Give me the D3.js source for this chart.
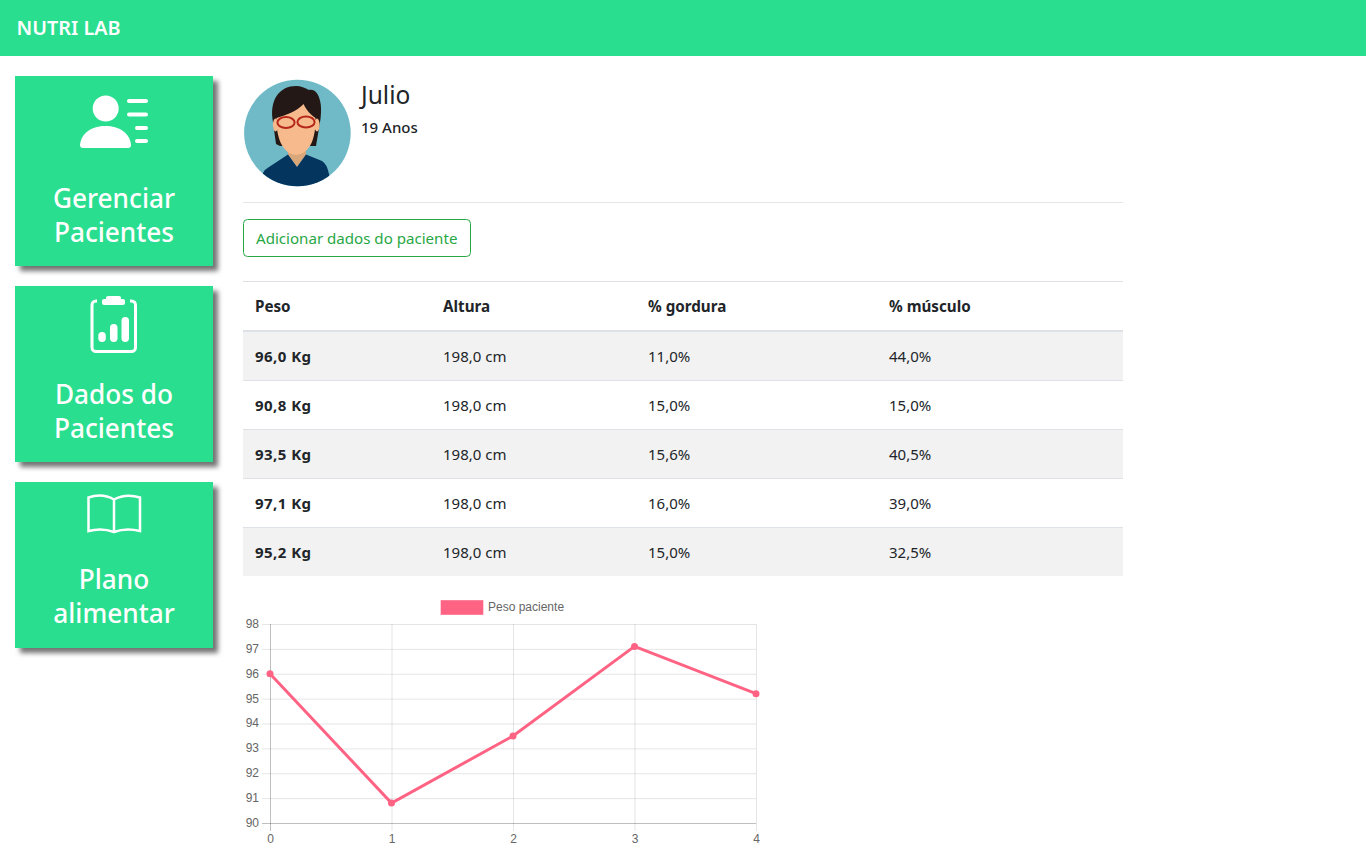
<!DOCTYPE html>
<html>
<head>
<meta charset="utf-8">
<script src="https://cdnjs.cloudflare.com/ajax/libs/d3/7.8.5/d3.min.js"></script>
<style>
  html, body { margin: 0; padding: 0; background: #fff; overflow: hidden; }
  svg { display: block; }
  text { font-family: "Noto Sans", sans-serif; }
  .chart text { font-family: "Liberation Sans", Arial, sans-serif; font-size: 12px; fill: #666; }
</style>
</head>
<body>
<div class="canvas"></div>
<script>
// data
const peso = [96.0, 90.8, 93.5, 97.1, 95.2];
const altura = [198.0, 198.0, 198.0, 198.0, 198.0];
const gordura = [11.0, 15.0, 15.6, 16.0, 15.0];
const musculo = [44.0, 15.0, 40.5, 39.0, 32.5];
const medicoes = [0, 1, 2, 3, 4];
const pesoTicks = [90, 91, 92, 93, 94, 95, 96, 97, 98];
const colunas = ['Peso', 'Altura', '% gordura', '% músculo'];
const menu = [
    ['Gerenciar', 'Pacientes'],
    ['Dados do', 'Pacientes'],
    ['Plano', 'alimentar']
];

const green = '#2ade8f';
const pink = 'rgb(255, 99, 132)';
const dark = '#212529';

const svg = d3.select('.canvas')
    .append('svg')
    .attr('width', 1366)
    .attr('height', 852);

const shadow = svg.append('defs').append('filter')
    .attr('id', 'shadow')
    .attr('x', '-10%').attr('y', '-10%')
    .attr('width', '125%').attr('height', '125%');
shadow.append('feDropShadow')
    .attr('dx', 5).attr('dy', 5)
    .attr('stdDeviation', 2.5)
    .attr('flood-color', '#000')
    .attr('flood-opacity', 0.55);

// navbar
svg.append('rect').attr('width', 1366).attr('height', 56).attr('fill', green);
svg.append('text')
    .attr('x', 16.5).attr('y', 35)
    .attr('fill', '#fff')
    .attr('font-size', 19.8)
    .attr('font-weight', 600)
    .text('NUTRI LAB');

// side menu
const cards = [
    { y: 76, h: 190, lines: [208, 242] },
    { y: 286, h: 176, lines: [404, 438] },
    { y: 482, h: 166, lines: [589, 623] }
];

cards.forEach((c, i) => {
    svg.append('rect')
        .attr('x', 15).attr('y', c.y)
        .attr('width', 198).attr('height', c.h)
        .attr('fill', green)
        .attr('filter', 'url(#shadow)');
    svg.append('g').selectAll('text')
        .data(menu[i])
        .enter()
        .append('text')
            .attr('x', 114)
            .attr('y', (d, j) => c.lines[j])
            .attr('text-anchor', 'middle')
            .attr('fill', '#fff')
            .attr('font-size', 26.2)
            .attr('font-weight', 500)
            .text(d => d);
});

// patients icon
const icon1 = svg.append('g').attr('fill', '#fff').attr('stroke', '#fff');
icon1.append('circle').attr('cx', 105.7).attr('cy', 108.5).attr('r', 13).attr('stroke', 'none');
icon1.append('path').attr('stroke', 'none')
    .attr('d', 'M83 148 Q80 148 80 145 C81 133 92 126 105.5 126 C119 126 130 133 131 145 Q131 148 128 148 Z');
[[129, 101], [129, 114.5], [137, 128], [137, 141]].forEach(p => {
    icon1.append('line')
        .attr('x1', p[0]).attr('x2', 146)
        .attr('y1', p[1]).attr('y2', p[1])
        .attr('stroke-width', 4)
        .attr('stroke-linecap', 'round');
});

// clipboard icon
const icon2 = svg.append('g').attr('fill', '#fff');
icon2.append('rect')
    .attr('x', 92).attr('y', 301)
    .attr('width', 43.5).attr('height', 50.5)
    .attr('rx', 4)
    .attr('fill', 'none')
    .attr('stroke', '#fff')
    .attr('stroke-width', 3);
icon2.append('rect').attr('x', 97).attr('y', 298).attr('width', 33).attr('height', 6).attr('fill', green);
icon2.append('rect').attr('x', 102).attr('y', 299).attr('width', 23).attr('height', 6).attr('rx', 2);
icon2.append('rect').attr('x', 106).attr('y', 296).attr('width', 15).attr('height', 5).attr('rx', 2);
[[98.3, 332], [110, 324], [121.5, 317]].forEach(b => {
    icon2.append('rect')
        .attr('x', b[0]).attr('y', b[1])
        .attr('width', 7.5).attr('height', 342 - b[1])
        .attr('rx', 3.7);
});

// book icon
svg.append('path')
    .attr('fill', 'none')
    .attr('stroke', '#fff')
    .attr('stroke-width', 2.5)
    .attr('d', 'M114 499.5 C106 495 96 495 88.5 497.5 L88.5 531 C96 529 106 529 114 532 C122 529 132 529 140 531 L140 497.5 C132 495 122 495 114 499.5 L114 532');

// avatar
svg.append('clipPath').attr('id', 'avatar-clip')
    .append('circle').attr('cx', 297.4).attr('cy', 133).attr('r', 53.3);
const avatar = svg.append('g').attr('clip-path', 'url(#avatar-clip)');
avatar.append('rect').attr('x', 244).attr('y', 79).attr('width', 107).attr('height', 108).attr('fill', '#70bac8');
avatar.append('path').attr('fill', '#231815')
    .attr('d', 'M272.5 119 C270 99 280 86 296 86 C301 86 305 88 309 90 C318 88 323 102 320.5 119 L316 146 L312 146 L280 146 L276 144 Z');
avatar.append('path').attr('fill', '#d9a77a').attr('d', 'M288 146 L306 146 L306 155 L297 167 L288 155 Z');
[[275.5, 125], [317, 125]].forEach(e => {
    avatar.append('ellipse')
        .attr('cx', e[0]).attr('cy', e[1])
        .attr('rx', 2.6).attr('ry', 6.5)
        .attr('fill', '#f6ba8c');
});
avatar.append('path').attr('fill', '#f6ba8c')
    .attr('d', 'M276.5 118 C287 115 297 111 303.5 104 C307 111 311 115 315.5 118 C316 136 311 154 296 155 C282 154 276 136 276.5 118 Z');
avatar.append('path').attr('fill', '#04355f')
    .attr('d', 'M262 187 L263 173 Q265 169 269 167 L288 154.5 L297 167 L306 154.5 L322 161 Q327 164 329 174 L332 187 Z');
[[286, 122.5], [306, 122]].forEach(g => {
    avatar.append('ellipse')
        .attr('cx', g[0]).attr('cy', g[1])
        .attr('rx', 8.6).attr('ry', 5.6)
        .attr('fill', 'none')
        .attr('stroke', '#b5261b')
        .attr('stroke-width', 2);
});

svg.append('text')
    .attr('x', 361).attr('y', 104)
    .attr('fill', dark)
    .attr('font-size', 24.5)
    .text('Julio');
svg.append('text')
    .attr('x', 361).attr('y', 133)
    .attr('fill', dark)
    .attr('font-size', 15)
    .attr('font-weight', 500)
    .text('19 Anos');

svg.append('line')
    .attr('x1', 243).attr('x2', 1123)
    .attr('y1', 202.5).attr('y2', 202.5)
    .attr('stroke', '#e5e5e5');

// add button
svg.append('rect')
    .attr('x', 243.5).attr('y', 219.5)
    .attr('width', 227).attr('height', 37)
    .attr('rx', 4)
    .attr('fill', '#fff')
    .attr('stroke', '#28a745');
svg.append('text')
    .attr('x', 256).attr('y', 244)
    .attr('fill', '#28a745')
    .attr('font-size', 15.1)
    .text('Adicionar dados do paciente');

// table
const colX = [255, 443, 648, 889];
const rowY = d3.scaleBand()
    .domain(medicoes)
    .range([331, 576]);
const fmt = d3.formatLocale({ decimal: ',', thousands: '.', grouping: [3], currency: ['', ''] }).format('.1f');

const rows = svg.append('g').selectAll('g')
    .data(medicoes)
    .enter()
    .append('g')
        .attr('transform', d => `translate(0, ${rowY(d)})`);

rows.append('rect')
    .attr('x', 243)
    .attr('width', 880)
    .attr('height', rowY.bandwidth())
    .attr('fill', d => d % 2 === 0 ? '#f2f2f2' : '#fff');

rows.filter(d => d > 0).append('line')
    .attr('x1', 243).attr('x2', 1123)
    .attr('y1', 0.5).attr('y2', 0.5)
    .attr('stroke', '#dee2e6');

svg.append('line').attr('x1', 243).attr('x2', 1123).attr('y1', 281.5).attr('y2', 281.5).attr('stroke', '#dee2e6');
svg.append('line').attr('x1', 243).attr('x2', 1123).attr('y1', 331).attr('y2', 331).attr('stroke', '#dee2e6').attr('stroke-width', 2);

svg.append('g').selectAll('text')
    .data(colunas)
    .enter()
    .append('text')
        .attr('x', (d, i) => colX[i])
        .attr('y', 312)
        .attr('fill', dark)
        .attr('font-size', 15.2)
        .attr('font-weight', 700)
        .text(d => d);

const cells = d => [
    fmt(peso[d]) + ' Kg',
    fmt(altura[d]) + ' cm',
    fmt(gordura[d]) + '%',
    fmt(musculo[d]) + '%'
];

rows.selectAll('text')
    .data(d => cells(d))
    .enter()
    .append('text')
        .attr('x', (d, i) => colX[i])
        .attr('y', 31)
        .attr('fill', dark)
        .attr('font-size', 15)
        .attr('letter-spacing', (d, i) => i === 0 ? 0.45 : 0)
        .attr('font-weight', (d, i) => i === 0 ? 700 : 400)
        .text(d => d);

// line chart
const dims = { left: 270, right: 756, top: 624, bottom: 823 };

const x = d3.scaleLinear()
    .domain(d3.extent(medicoes))
    .range([dims.left, dims.right]);

const y = d3.scaleLinear()
    .domain(d3.extent(pesoTicks))
    .range([dims.bottom, dims.top]);

const chart = svg.append('g').attr('class', 'chart');

const yAxis = d3.axisLeft(y)
    .tickValues(pesoTicks)
    .tickFormat(d3.format('d'))
    .tickSize(dims.right - dims.left + 8)
    .tickPadding(3);

const xAxis = d3.axisBottom(x)
    .tickValues(medicoes)
    .tickFormat(d3.format('d'))
    .tickSize(dims.bottom - dims.top + 8)
    .tickPadding(3);

const yGroup = chart.append('g')
    .attr('transform', `translate(${dims.right}, 0)`)
    .call(yAxis);

const xGroup = chart.append('g')
    .attr('transform', `translate(0, ${dims.top})`)
    .call(xAxis);

[yGroup, xGroup].forEach(g => {
    g.select('.domain').remove();
    g.selectAll('line').attr('stroke', 'rgba(0, 0, 0, 0.1)');
});
yGroup.selectAll('text').attr('dy', '0.28em');

// zero lines are a bit darker
yGroup.selectAll('.tick').filter(d => d === 90).select('line').attr('stroke', 'rgba(0, 0, 0, 0.25)');
xGroup.selectAll('.tick').filter(d => d === 0).select('line').attr('stroke', 'rgba(0, 0, 0, 0.25)');

const line = d3.line()
    .x((d, i) => x(medicoes[i]))
    .y(d => y(d));

chart.append('path')
    .datum(peso)
    .attr('fill', 'none')
    .attr('stroke', pink)
    .attr('stroke-width', 3)
    .attr('d', line);

chart.append('g').selectAll('circle')
    .data(peso)
    .enter()
    .append('circle')
        .attr('cx', (d, i) => x(medicoes[i]))
        .attr('cy', d => y(d))
        .attr('r', 3.5)
        .attr('fill', pink);

// legend
chart.append('rect')
    .attr('x', 441).attr('y', 600.5)
    .attr('width', 42).attr('height', 14)
    .attr('fill', pink)
    .attr('stroke', 'rgba(255, 99, 132, 0.6)');
chart.append('text')
    .attr('x', 488).attr('y', 611)
    .text('Peso paciente');
</script>
</body>
</html>
